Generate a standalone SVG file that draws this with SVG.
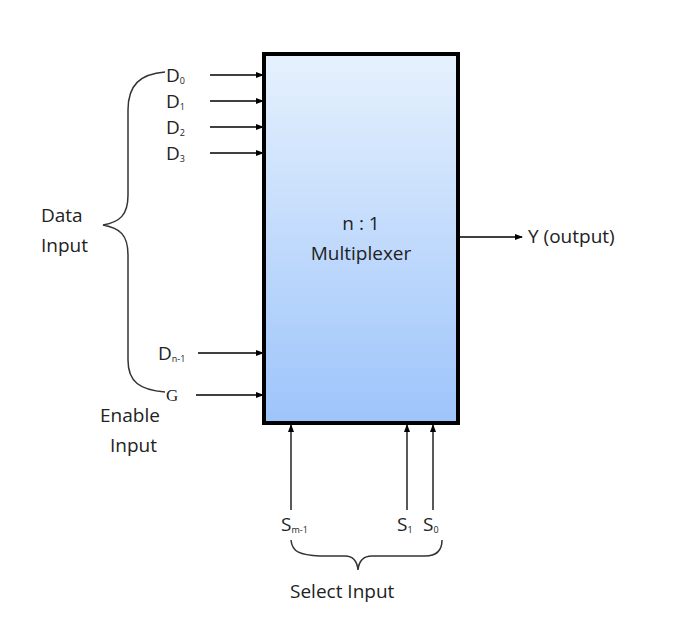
<svg xmlns="http://www.w3.org/2000/svg" width="676" height="633" viewBox="0 0 676 633">
<style>
text{font-family:"Open Sans","Liberation Sans",sans-serif;font-size:19px;fill:#222}
.sub{font-size:9px}
.w{stroke:#000;stroke-width:1.3;fill:none}
.br{stroke:#333;stroke-width:1.5;fill:none}
</style>
<defs>
<linearGradient id="g" x1="0" y1="0" x2="0" y2="1"><stop offset="0" stop-color="#e6f1fd"/><stop offset="1" stop-color="#9dc4fb"/></linearGradient>
<marker id="a" markerWidth="8" markerHeight="8" refX="7" refY="4" orient="auto" markerUnits="userSpaceOnUse"><path d="M0,1 L8,4 L0,7z" fill="#000"/></marker>
</defs>
<rect width="676" height="633" fill="#fff"/>
<g id="mux"><rect x="264" y="54" width="194" height="369" fill="url(#g)" stroke="#000" stroke-width="4"/>
<text x="361" y="230" text-anchor="middle">n : 1</text><text x="361" y="260" text-anchor="middle">Multiplexer</text></g>
<g id="connectors">
<path class="w" marker-end="url(#a)" d="M210,75H263"/>
<path class="w" marker-end="url(#a)" d="M210,101H263"/>
<path class="w" marker-end="url(#a)" d="M210,127H263"/>
<path class="w" marker-end="url(#a)" d="M210,153H263"/>
<path class="w" marker-end="url(#a)" d="M198,353H263"/>
<path class="w" marker-end="url(#a)" d="M196,395H263"/>
<path class="w" marker-end="url(#a)" d="M458,237H522"/>
<path class="w" marker-end="url(#a)" d="M291,510V425"/>
<path class="w" marker-end="url(#a)" d="M407,510V425"/>
<path class="w" marker-end="url(#a)" d="M433,510V425"/>
<path class="br" d="M165,72 C140,74 128,85 128,110 V195 C128,215 120,222 103,225 C120,228 128,235 128,255 V360 C128,382 140,390 165,392"/>
<path class="br" d="M291,540 C292,552 300,555 320,556 H345 C352,556 357,560 358,570 C359,560 364,556 372,556 H425 C437,556 442,550 442,540"/>
</g>
<g id="labels">
<text x="166" y="82">D<tspan class="sub" dy="2">0</tspan></text>
<text x="166" y="108">D<tspan class="sub" dy="2">1</tspan></text>
<text x="166" y="134">D<tspan class="sub" dy="2">2</tspan></text>
<text x="166" y="160">D<tspan class="sub" dy="2">3</tspan></text>
<text x="158" y="360">D<tspan class="sub" dy="2">n-1</tspan></text>
<text x="166" y="401" style="font-family:'Liberation Serif',serif;font-size:17px">G</text>
<text x="41" y="222">Data</text><text x="41" y="252">Input</text>
<text x="100" y="422">Enable</text><text x="110" y="452">Input</text>
<text x="528" y="243">Y (output)</text>
<text x="281" y="531">S<tspan class="sub" dy="2">m-1</tspan></text>
<text x="397" y="531">S<tspan class="sub" dy="2">1</tspan></text>
<text x="423" y="531">S<tspan class="sub" dy="2">0</tspan></text>
<text x="290" y="598">Select Input</text>
</g>
</svg>
